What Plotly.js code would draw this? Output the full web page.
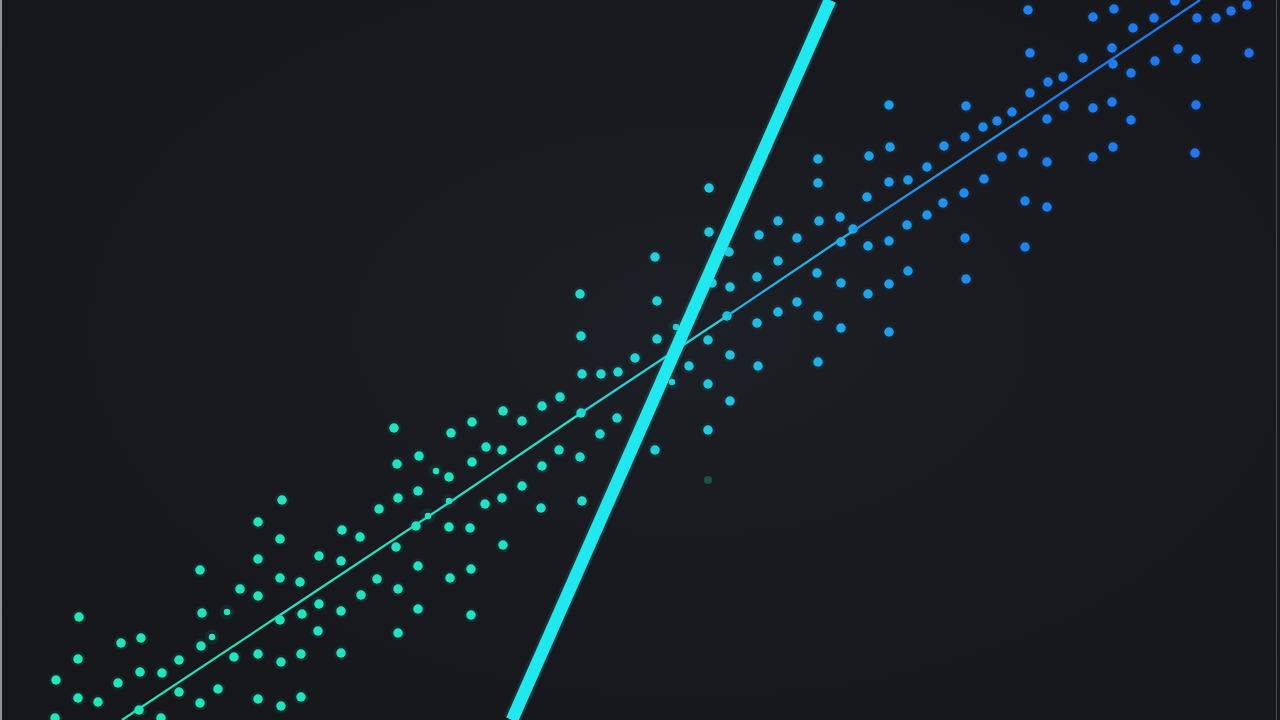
<!DOCTYPE html>
<html>
<head>
<meta charset="utf-8">
<script src="https://cdn.plot.ly/plotly-3.0.1.min.js"></script>
<style>
  html, body { margin: 0; padding: 0; width: 1280px; height: 720px; overflow: hidden; }
  body { background: radial-gradient(ellipse 65% 70% at 54% 46%, #1c1f25 0%, #181a1f 45%, #15171b 100%); }
  #chart { width: 1280px; height: 720px; }
</style>
</head>
<body>
<div id="chart"></div>
<script>
// Scatter points (in the chart's own 0..1280 x 0..720 space, y downward)
const pointsX = [
  282,258,280,258,319,200,280,300,240,258,79,202,280,302,319,318,78,121,141,201,179,234,258,281,301,
  56,140,162,118,78,98,179,218,200,258,281,301,55,139,161,
  394,472,503,542,560,522,581,617,451,486,502,559,580,600,655,419,397,472,542,449,522,418,398,502,485,
  541,582,379,416,342,360,449,470,396,503,341,418,471,377,450,361,398,341,418,471,398,341,
  709,709,655,729,580,657,818,869,818,889,867,778,819,840,759,797,853,841,868,889,778,757,817,841,868,
  889,730,712,581,657,727,757,778,797,818,841,889,708,635,582,601,618,689,730,758,818,708,730,708,
  1028,1093,1114,1154,1175,1133,1197,1216,1231,1247,1030,1083,1112,1113,1131,1155,1178,1196,1249,
  1030,1048,1063,1064,1047,1093,1112,1131,1196,889,966,1012,997,983,965,944,890,927,908,1002,1023,
  1047,1093,1113,1195,984,964,943,927,907,1025,1047,965,1025,908,966
];
const pointsY = [
  500,522,539,559,556,570,578,582,589,596,617,613,620,614,604,631,659,643,638,646,660,657,654,662,654,
  680,672,673,683,698,702,692,689,703,699,706,697,718,710,718,
  428,422,411,406,397,421,413,418,433,447,450,450,457,434,450,456,464,462,466,477,486,491,498,498,504,
  508,501,509,526,530,537,527,528,547,545,561,566,569,579,578,595,589,611,609,615,633,653,
  188,232,257,252,294,301,159,156,183,182,197,221,221,217,235,238,229,242,246,241,261,277,273,283,294,
  284,287,283,336,339,316,323,312,302,316,328,332,340,358,374,374,372,366,355,366,362,384,401,430,
  10,17,9,18,1,28,18,18,11,5,53,58,48,64,73,61,49,59,53,
  93,82,77,106,119,108,102,120,105,105,106,112,121,127,137,146,147,167,180,157,153,
  162,157,147,153,179,193,203,215,225,201,207,238,247,271,279
];
// Smaller dots
const smallX = [227, 212, 436, 449, 428, 676, 672];
const smallY = [612, 637, 471, 501, 516, 327, 382];
// Faint dot
const faintX = [708];
const faintY = [480];
// Thin trend line vertices
const fitX = [122, 280, 450, 581, 727, 853, 1033, 1200];
const fitY = [720, 615, 502, 413, 316, 231, 112, 0];
// Thick line
const thickX = [512, 830];
const thickY = [720, 0];

const scale = [
  [0, '#1ee8b6'], [0.4, '#1fe3c6'], [0.5, '#21d6d8'], [0.58, '#22c0e4'],
  [0.68, '#1fa2ea'], [0.8, '#1e82f0'], [1, '#2270ee']
];
function hex2rgb(h){ return [parseInt(h.slice(1,3),16), parseInt(h.slice(3,5),16), parseInt(h.slice(5,7),16)]; }
function colorAt(t){
  for (let i = 1; i < scale.length; i++) {
    if (t <= scale[i][0]) {
      const a = scale[i-1], b = scale[i];
      const f = (t - a[0]) / (b[0] - a[0]);
      const ca = hex2rgb(a[1]), cb = hex2rgb(b[1]);
      return 'rgb(' + ca.map((v, k) => Math.round(v + (cb[k] - v) * f)).join(',') + ')';
    }
  }
  return scale[scale.length-1][1];
}

const traces = [];
traces.push({
  type: 'scatter', mode: 'markers', x: pointsX.concat(smallX), y: pointsY.concat(smallY),
  marker: { size: 15, color: pointsX.concat(smallX), colorscale: scale, cmin: 0, cmax: 1280, opacity: 0.08, line: {width: 0} },
  hoverinfo: 'skip'
});
traces.push({
  type: 'scatter', mode: 'markers', x: pointsX, y: pointsY,
  marker: { size: 9.5, color: pointsX, colorscale: scale, cmin: 0, cmax: 1280, line: {width: 0} }
});
traces.push({
  type: 'scatter', mode: 'markers', x: smallX, y: smallY,
  marker: { size: 6.5, color: smallX, colorscale: scale, cmin: 0, cmax: 1280, line: {width: 0} }
});
traces.push({
  type: 'scatter', mode: 'markers', x: faintX, y: faintY,
  marker: { size: 8, color: 'rgba(30,190,130,0.35)', line: {width: 0} }
});
for (let i = 0; i < fitX.length - 1; i++) {
  const mid = (fitX[i] + fitX[i+1]) / 2 / 1280;
  traces.push({
    type: 'scatter', mode: 'lines', x: [fitX[i], fitX[i+1]], y: [fitY[i], fitY[i+1]],
    line: { color: colorAt(mid), width: 2.2 }, hoverinfo: 'skip'
  });
}
traces.push({
  type: 'scatter', mode: 'lines', x: thickX, y: thickY,
  line: { color: 'rgba(30,232,238,0.10)', width: 18 }, hoverinfo: 'skip'
});
traces.push({
  type: 'scatter', mode: 'lines', x: thickX, y: thickY,
  line: { color: '#1fe9ef', width: 12.5 }, hoverinfo: 'skip'
});

const layout = {
  width: 1280, height: 720,
  margin: { l: 0, r: 0, t: 0, b: 0, pad: 0 },
  paper_bgcolor: 'rgba(0,0,0,0)', plot_bgcolor: 'rgba(0,0,0,0)',
  showlegend: false,
  xaxis: { range: [0, 1280], visible: false, fixedrange: true },
  yaxis: { range: [720, 0], visible: false, fixedrange: true },
  shapes: [
    { type: 'rect', xref: 'paper', yref: 'paper', x0: 0, x1: 2/1280, y0: 0, y1: 1, fillcolor: '#8e9298', line: {width: 0} },
    { type: 'rect', xref: 'paper', yref: 'paper', x0: 1276/1280, x1: 1277/1280, y0: 0, y1: 1, fillcolor: '#4a4e54', line: {width: 0} }
  ]
};
Plotly.newPlot('chart', traces, layout, { displayModeBar: false, staticPlot: true });
</script>
</body>
</html>
